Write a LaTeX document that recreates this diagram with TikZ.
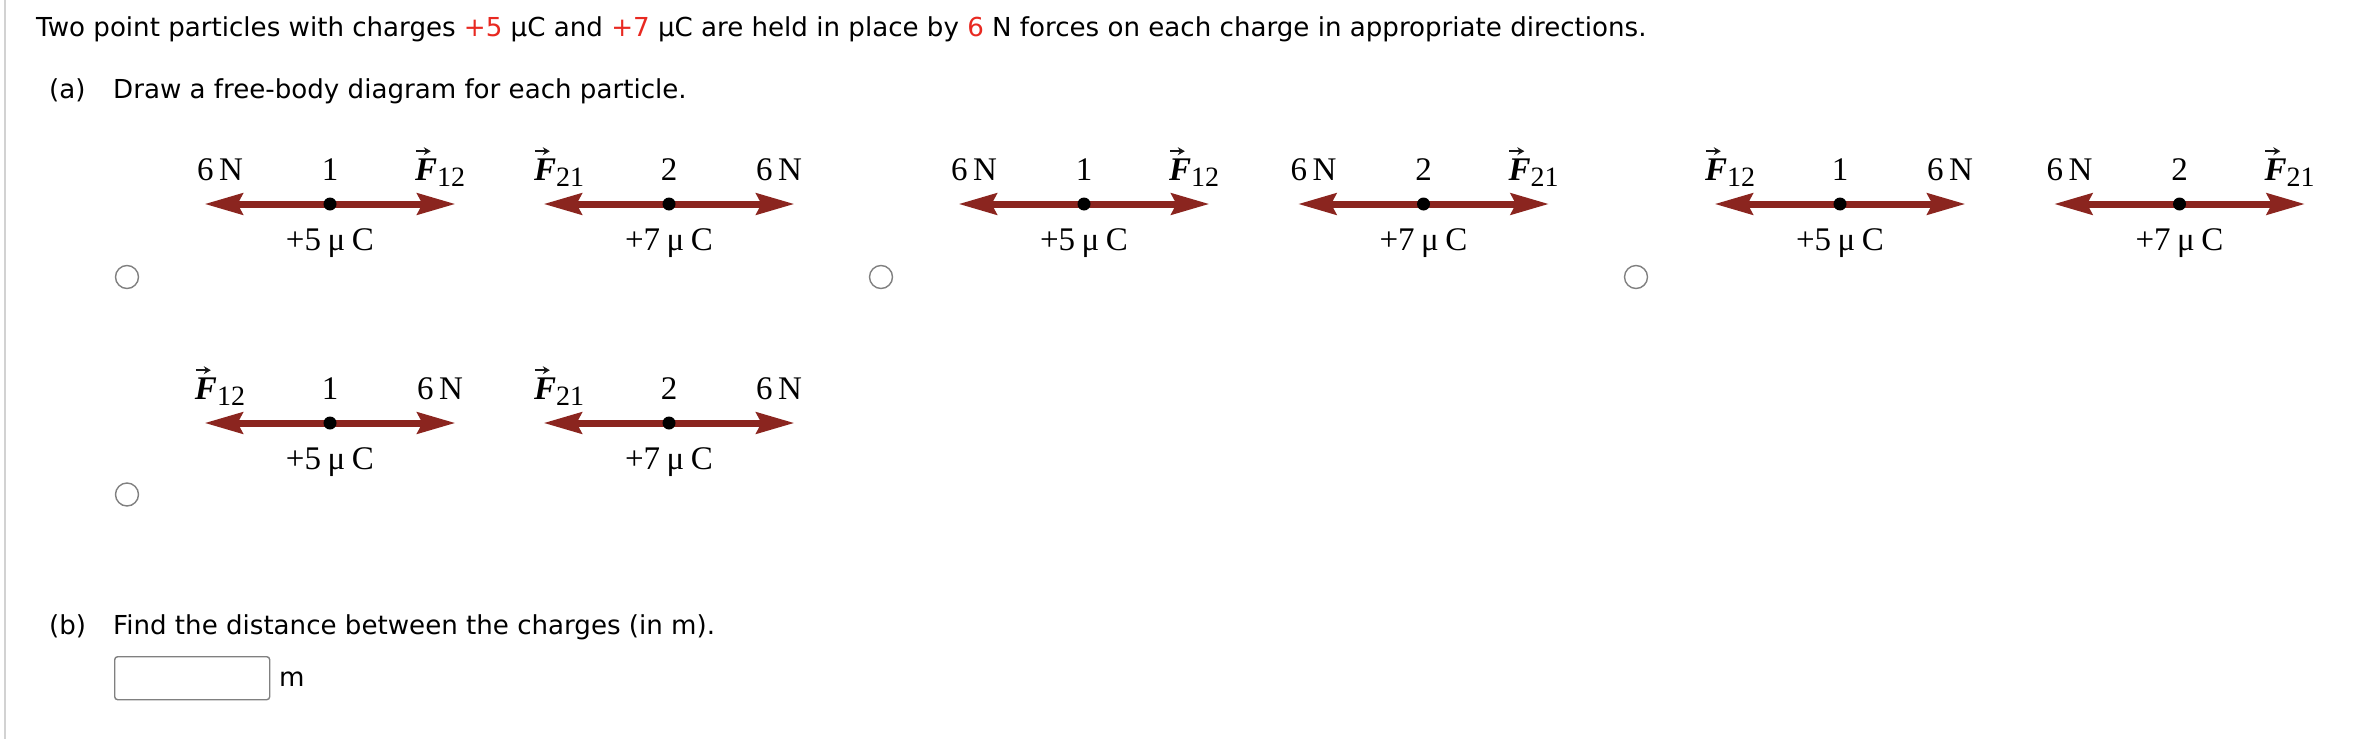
\documentclass[tikz,border=0pt]{standalone}
\usepackage{fontspec}
\setmainfont{DejaVu Sans}
\newfontfamily\diagfont{Liberation Serif}
\usetikzlibrary{arrows.meta}

\definecolor{forcered}{RGB}{139,37,31}
\definecolor{givenred}{RGB}{232,41,33}
\definecolor{radiogray}{RGB}{128,128,128}

\newcommand{\given}[1]{\textcolor{givenred}{#1}}
\newcommand{\fname}[1]{\textbf{\textit{F}}\raisebox{-6pt}{\fontsize{28}{28}\selectfont #1}}

\begin{document}
\begin{tikzpicture}[x=1pt,y=-1pt,
    txt/.style={inner sep=0, anchor=base west, font=\fontsize{26.1}{31}\selectfont},
    lbl/.style={inner sep=0, anchor=base, font=\diagfont\fontsize{33}{38}\selectfont},
    dot/.style={circle, fill=black, inner sep=0, minimum size=13pt},
    radio/.style={circle, draw=radiogray, line width=1.4pt, inner sep=0, minimum size=23pt},
    force/.style={draw=forcered, line width=7pt, {Stealth[length=38pt,width=21pt,inset=5pt]}-{Stealth[length=38pt,width=21pt,inset=5pt]}},
    vecarrow/.style={draw=black!90, line width=2.2pt, -{Stealth[length=7pt,width=8pt]}}]
\useasboundingbox (0,0) rectangle (2372,739);
\draw [gray!35, line width=2pt] (4.5,0) -- (4.5,739);

\node [txt] (title) at (36,36.5) {Two point particles with charges \given{+5} μC and \given{+7} μC are held in place by \given{6} N forces on each charge in appropriate directions.};
\node [txt] (parta) at (49,98.5) {(a)};
\node [txt] (partatext) at (113,98.5) {Draw a free-body diagram for each particle.};

% first choice
\node [radio] (ra) at (127,277) {};
\coordinate (a1w) at (204.5,204); \coordinate (a1e) at (455.5,204);
\draw [force] (a1w) -- (a1e);
\node [dot] (a1) at (330,204) {};
\node [lbl] (a1l) at (220,180.5) {6\,N};
\node [lbl] (a1n) at (330,180.5) {1};
\node [lbl] (a1r) at (440,180.5) {\fname{12}};
\draw [vecarrow] ([shift={(1,-7.5)}]a1r.north west) -- ++(15,0);
\node [lbl] (a1q) at (330,250) {+5\hspace{0.2em}μ\hspace{0.2em}C};

\coordinate (a2w) at (543.5,204); \coordinate (a2e) at (794.5,204);
\draw [force] (a2w) -- (a2e);
\node [dot] (a2) at (669,204) {};
\node [lbl] (a2l) at (559,180.5) {\fname{21}};
\draw [vecarrow] ([shift={(1,-7.5)}]a2l.north west) -- ++(15,0);
\node [lbl] (a2n) at (669,180.5) {2};
\node [lbl] (a2r) at (779,180.5) {6\,N};
\node [lbl] (a2q) at (669,250) {+7\hspace{0.2em}μ\hspace{0.2em}C};

% second choice
\node [radio] (rb) at (881,277) {};
\coordinate (b1w) at (958.5,204); \coordinate (b1e) at (1209.5,204);
\draw [force] (b1w) -- (b1e);
\node [dot] (b1) at (1084,204) {};
\node [lbl] (b1l) at (974,180.5) {6\,N};
\node [lbl] (b1n) at (1084,180.5) {1};
\node [lbl] (b1r) at (1194,180.5) {\fname{12}};
\draw [vecarrow] ([shift={(1,-7.5)}]b1r.north west) -- ++(15,0);
\node [lbl] (b1q) at (1084,250) {+5\hspace{0.2em}μ\hspace{0.2em}C};

\coordinate (b2w) at (1298,204); \coordinate (b2e) at (1549,204);
\draw [force] (b2w) -- (b2e);
\node [dot] (b2) at (1423.5,204) {};
\node [lbl] (b2l) at (1313.5,180.5) {6\,N};
\node [lbl] (b2n) at (1423.5,180.5) {2};
\node [lbl] (b2r) at (1533.5,180.5) {\fname{21}};
\draw [vecarrow] ([shift={(1,-7.5)}]b2r.north west) -- ++(15,0);
\node [lbl] (b2q) at (1423.5,250) {+7\hspace{0.2em}μ\hspace{0.2em}C};

% third choice
\node [radio] (rc) at (1636,277) {};
\coordinate (c1w) at (1714.5,204); \coordinate (c1e) at (1965.5,204);
\draw [force] (c1w) -- (c1e);
\node [dot] (c1) at (1840,204) {};
\node [lbl] (c1l) at (1730,180.5) {\fname{12}};
\draw [vecarrow] ([shift={(1,-7.5)}]c1l.north west) -- ++(15,0);
\node [lbl] (c1n) at (1840,180.5) {1};
\node [lbl] (c1r) at (1950,180.5) {6\,N};
\node [lbl] (c1q) at (1840,250) {+5\hspace{0.2em}μ\hspace{0.2em}C};

\coordinate (c2w) at (2054,204); \coordinate (c2e) at (2305,204);
\draw [force] (c2w) -- (c2e);
\node [dot] (c2) at (2179.5,204) {};
\node [lbl] (c2l) at (2069.5,180.5) {6\,N};
\node [lbl] (c2n) at (2179.5,180.5) {2};
\node [lbl] (c2r) at (2289.5,180.5) {\fname{21}};
\draw [vecarrow] ([shift={(1,-7.5)}]c2r.north west) -- ++(15,0);
\node [lbl] (c2q) at (2179.5,250) {+7\hspace{0.2em}μ\hspace{0.2em}C};

% fourth choice
\node [radio] (rd) at (127,494.5) {};
\coordinate (d1w) at (204.5,423); \coordinate (d1e) at (455.5,423);
\draw [force] (d1w) -- (d1e);
\node [dot] (d1) at (330,423) {};
\node [lbl] (d1l) at (220,399.5) {\fname{12}};
\draw [vecarrow] ([shift={(1,-7.5)}]d1l.north west) -- ++(15,0);
\node [lbl] (d1n) at (330,399.5) {1};
\node [lbl] (d1r) at (440,399.5) {6\,N};
\node [lbl] (d1q) at (330,469) {+5\hspace{0.2em}μ\hspace{0.2em}C};

\coordinate (d2w) at (543.5,423); \coordinate (d2e) at (794.5,423);
\draw [force] (d2w) -- (d2e);
\node [dot] (d2) at (669,423) {};
\node [lbl] (d2l) at (559,399.5) {\fname{21}};
\draw [vecarrow] ([shift={(1,-7.5)}]d2l.north west) -- ++(15,0);
\node [lbl] (d2n) at (669,399.5) {2};
\node [lbl] (d2r) at (779,399.5) {6\,N};
\node [lbl] (d2q) at (669,469) {+7\hspace{0.2em}μ\hspace{0.2em}C};

% part b
\node [txt] (partb) at (49,634) {(b)};
\node [txt] (partbtext) at (113,634) {Find the distance between the charges (in m).};
\node [draw=radiogray, line width=1.4pt, rounded corners=3pt, inner sep=0, minimum width=155pt, minimum height=43pt, anchor=north west] (answer) at (114,656) {};
\node [txt] (unit) at (279,686) {m};

\end{tikzpicture}
\end{document}
